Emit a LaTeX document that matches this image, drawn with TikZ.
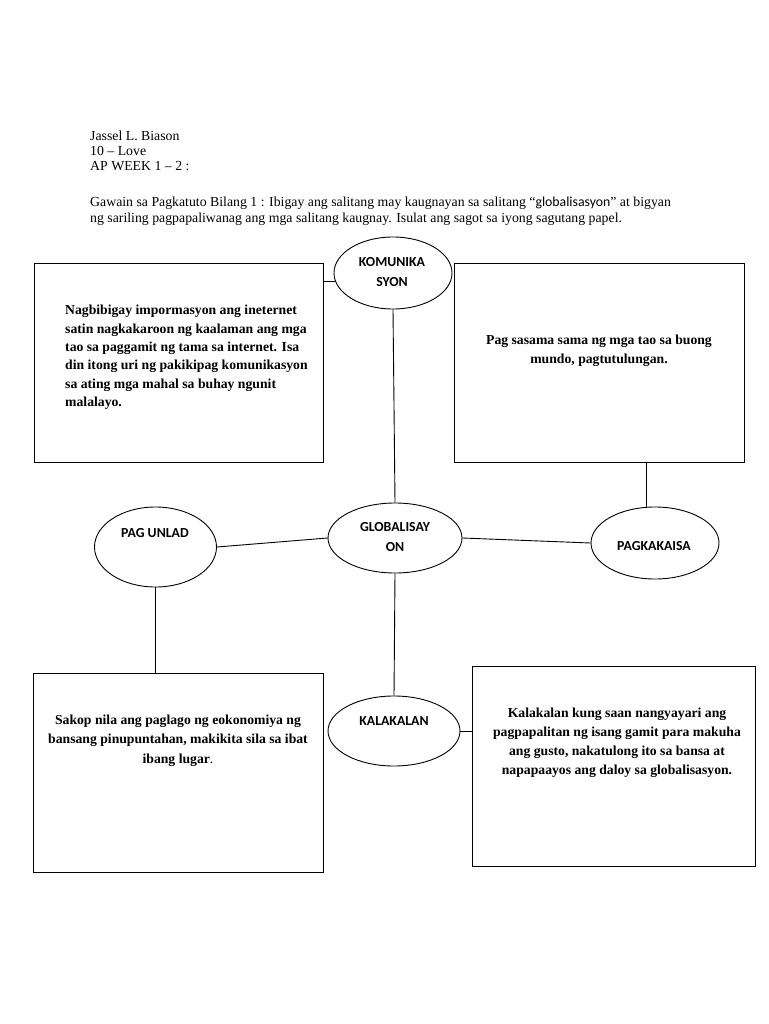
\documentclass[tikz,border=0pt]{standalone}
\usepackage{fontspec}
\setmainfont{Liberation Serif}
\newfontfamily\calibri{Carlito}
\usetikzlibrary{shapes.geometric}

\tikzset{
  answerbox/.style={draw, line width=1pt, rectangle, inner sep=0pt},
  bubble/.style={draw, line width=0.9pt, ellipse, inner sep=0pt},
  bubbletext/.style={font=\calibri\bfseries\fontsize{13.8}{20}\selectfont, align=center, inner sep=0pt},
  answertext/.style={font=\bfseries\fontsize{13.7}{19}\selectfont, inner sep=0pt},
  link/.style={line width=0.9pt}
}

\begin{document}
\begin{tikzpicture}[x=1pt, y=-1pt]
\useasboundingbox (0,0) rectangle (768,1024);

% Draw header
\node[anchor=north west, align=left, inner sep=0pt, font=\fontsize{13.8}{15}\selectfont] (name) at (90,130.5)
  {Jassel L. Biason\\10 – Love\\AP WEEK 1 – 2 :};
\node[anchor=north west, align=left, inner sep=0pt, font=\fontsize{13.8}{16}\selectfont] (task) at (90,196.5)
  {Gawain sa Pagkatuto Bilang 1 : Ibigay ang salitang may kaugnayan sa salitang “{\calibri globalisasyon}” at bigyan\\
   ng sariling pagpapaliwanag ang mga salitang kaugnay. Isulat ang sagot sa iyong sagutang papel.};

% Draw answer boxes
\pgfmathsetmacro{\boxH}{199}
\node[answerbox, minimum width=289pt, minimum height=\boxH pt] (box1) at (178.5,362.5) {};
\node[answerbox, minimum width=290pt, minimum height=\boxH pt] (box2) at (599,362.5) {};
\node[answerbox, minimum width=290pt, minimum height=\boxH pt] (box3) at (178,772.5) {};
\node[answerbox, minimum width=283pt, minimum height=200pt] (box4) at (613.5,766) {};

% Draw bubbles
\node[bubble, minimum width=118pt, minimum height=72pt] (kom) at (393,273) {};
\node[bubble, minimum width=134pt, minimum height=70pt] (glob) at (395,538) {};
\node[bubble, minimum width=122pt, minimum height=80pt] (unlad) at (155.5,547) {};
\node[bubble, minimum width=128pt, minimum height=72pt] (pagk) at (655,543) {};
\node[bubble, minimum width=132pt, minimum height=70pt] (kal) at (394,731) {};

% Bubble labels
\node[bubbletext] (komtxt) at (392,272) {KOMUNIKA\\SYON};
\node[bubbletext] (globtxt) at (395,537) {GLOBALISAY\\ON};
\node[bubbletext] (unladtxt) at (155,533) {PAG UNLAD};
\node[bubbletext] (pagktxt) at (654,546) {PAGKAKAISA};
\node[bubbletext] (kaltxt) at (394,721) {KALAKALAN};

% Draw links
\draw[link] (kom.188) -- (kom.188 -| box1.east);
\draw[link] (kom.south) -- (glob.north);
\draw[link] (unlad.east) -- (glob.west);
\draw[link] (glob.east) -- (pagk.west);
\draw[link] (glob.south) -- (kal.north);
\draw[link] (unlad.south) -- (unlad.south |- box3.north);
\draw[link] (pagk.103) -- (pagk.103 |- box2.south);
\draw[link] (kal.east) -- (kal.east -| box4.west);

% Answer texts
\node[answertext, anchor=north west, align=left, font=\bfseries\fontsize{13.7}{18.4}\selectfont] (ans1) at (65,305)
  {Nagbibigay impormasyon ang ineternet\\
   satin nagkakaroon ng kaalaman ang mga\\
   tao sa paggamit ng tama sa internet. Isa\\
   din itong uri ng pakikipag komunikasyon\\
   sa ating mga mahal sa buhay ngunit\\
   malalayo.};
\node[answertext, anchor=north, align=center] (ans2) at (599,335)
  {Pag sasama sama ng mga tao sa buong\\
   mundo, pagtutulungan.};
\node[answertext, anchor=north, align=center, font=\bfseries\fontsize{13.7}{19.5}\selectfont] (ans3) at (178,714.5)
  {Sakop nila ang paglago ng eokonomiya ng\\
   bansang pinupuntahan, makikita sila sa ibat\\
   ibang lugar{\mdseries.}};
\node[answertext, anchor=north, align=center] (ans4) at (617,707.5)
  {Kalakalan kung saan nangyayari ang\\
   pagpapalitan ng isang gamit para makuha\\
   ang gusto, nakatulong ito sa bansa at\\
   napapaayos ang daloy sa globalisasyon.};
\end{tikzpicture}
\end{document}
